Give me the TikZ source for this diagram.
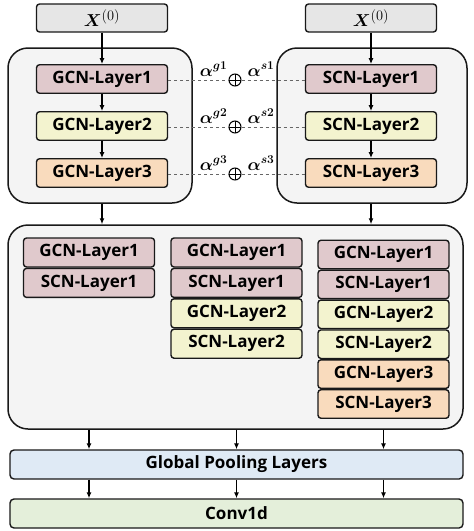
\documentclass[tikz,border=0pt]{standalone}
\usepackage{fontspec}
\usepackage{amsmath, bm}
\setmainfont{Open Sans}
\usepackage{xcolor}
\usetikzlibrary{arrows.meta, positioning}
\definecolor{inputgray}{HTML}{E6E6E6}
\definecolor{panelgray}{HTML}{F4F4F4}
\definecolor{layerone}{HTML}{E0C9CC}
\definecolor{layertwo}{HTML}{F3F3CF}
\definecolor{layerthree}{HTML}{F9DBBD}
\definecolor{poolblue}{HTML}{DFEAF5}
\definecolor{convgreen}{HTML}{E4EFDA}
\tikzset{
    panel/.style={rectangle, draw=black!90, line width=1.5pt, fill=panelgray, rounded corners=20pt},
    layer/.style={rectangle, draw=black!90, line width=1.4pt, rounded corners=3pt, minimum width=131pt, minimum height=28.5pt, inner sep=0pt, font=\fontsize{17}{17}\selectfont\bfseries},
    lone/.style={layer, fill=layerone},
    ltwo/.style={layer, fill=layertwo},
    lthree/.style={layer, fill=layerthree},
    inbox/.style={layer, fill=inputgray, minimum height=28pt, font=\fontsize{19}{19}\selectfont},
    wide/.style={rectangle, draw=black!90, line width=1.4pt, rounded corners=4pt, minimum width=453pt, minimum height=29pt, inner sep=0pt, font=\fontsize{17}{17}\selectfont\bfseries},
    xor/.style={circle, draw=black, line width=1pt, inner sep=0pt, minimum size=12pt, path picture={\draw[line width=1pt] (path picture bounding box.north) -- (path picture bounding box.south) (path picture bounding box.west) -- (path picture bounding box.east);}},
    coef/.style={inner sep=0pt, font=\fontsize{18}{18}\selectfont},
    link/.style={dashed, draw=black!60, line width=0.9pt},
    arrow/.style={-{Latex[length=6pt, width=5pt]}, line width=1.3pt}
}

\begin{document}
\begin{tikzpicture}[x=1pt, y=-1pt]
    \useasboundingbox (0,0) rectangle (474,531);

    % two branches
    \node[panel, minimum width=184pt, minimum height=155pt] (gpanel) at (100,125.5) {};
    \node[panel, minimum width=190pt, minimum height=155pt] (spanel) at (372,125.5) {};

    \node[inbox] (xg) at (102,18) {$\bm{X}^{(0)}$};
    \node[inbox] (xs) at (371,18) {$\bm{X}^{(0)}$};

    \node[lone]   (g1) at (102,79)  {GCN-Layer1};
    \node[ltwo]   (g2) at (102,126) {GCN-Layer2};
    \node[lthree] (g3) at (102,173) {GCN-Layer3};
    \node[lone]   (s1) at (371,79)  {SCN-Layer1};
    \node[ltwo]   (s2) at (371,126) {SCN-Layer2};
    \node[lthree] (s3) at (371,173) {SCN-Layer3};

    \draw[arrow] (xg) -- (g1);
    \draw[arrow] (g1) -- (g2);
    \draw[arrow] (g2) -- (g3);
    \draw[arrow] (xs) -- (s1);
    \draw[arrow] (s1) -- (s2);
    \draw[arrow] (s2) -- (s3);

    % weighted fusion
    \foreach \i/\y in {1/80, 2/127, 3/174} {
        \node[xor] (o\i) at (235,\y) {};
        \draw[link] (g\i.east |- o\i) -- (o\i);
        \draw[link] (o\i) -- (s\i.west |- o\i);
        \node[coef, anchor=base east, xshift=-1pt, yshift=4pt] (ag\i) at (o\i.west) {$\bm{\alpha}^{\bm{g\i}}$};
        \node[coef, anchor=base west, xshift=6pt, yshift=4pt] (as\i) at (o\i.east) {$\bm{\alpha}^{\bm{s\i}}$};
    }

    % concatenated layers
    \node[panel, minimum width=455pt, minimum height=204pt] (cpanel) at (235.5,327) {};

    \node[lone, minimum height=29pt] (ca1) at (89,252.5) {GCN-Layer1};
    \node[lone, minimum height=29pt, below=0pt of ca1] (ca2) {SCN-Layer1};

    \node[lone, minimum height=29pt] (cb1) at (236.5,252.5) {GCN-Layer1};
    \node[lone, minimum height=29pt, below=0pt of cb1] (cb2) {SCN-Layer1};
    \node[ltwo, minimum height=29pt, below=0pt of cb2] (cb3) {GCN-Layer2};
    \node[ltwo, minimum height=29pt, below=0pt of cb3] (cb4) {SCN-Layer2};

    \node[lone] (cc1) at (383.5,254.5) {GCN-Layer1};
    \node[lone, below=0pt of cc1] (cc2) {SCN-Layer1};
    \node[ltwo, below=0pt of cc2] (cc3) {GCN-Layer2};
    \node[ltwo, below=0pt of cc3] (cc4) {SCN-Layer2};
    \node[lthree, below=0pt of cc4] (cc5) {GCN-Layer3};
    \node[lthree, below=0pt of cc5] (cc6) {SCN-Layer3};

    \draw[arrow] (gpanel.south -| xg) -- (cpanel.north -| xg);
    \draw[arrow] (spanel.south -| xs) -- (cpanel.north -| xs);

    % readout
    \node[wide, fill=poolblue] (pool) at (236.5,464.5) {Global Pooling Layers};
    \node[wide, fill=convgreen] (conv) at (236.5,513.5) {Conv1d};

    \foreach \c in {ca1, cb1, cc1} {
        \draw[arrow] (cpanel.south -| \c) -- (pool.north -| \c);
        \draw[arrow] (pool.south -| \c) -- (conv.north -| \c);
    }
\end{tikzpicture}
\end{document}
